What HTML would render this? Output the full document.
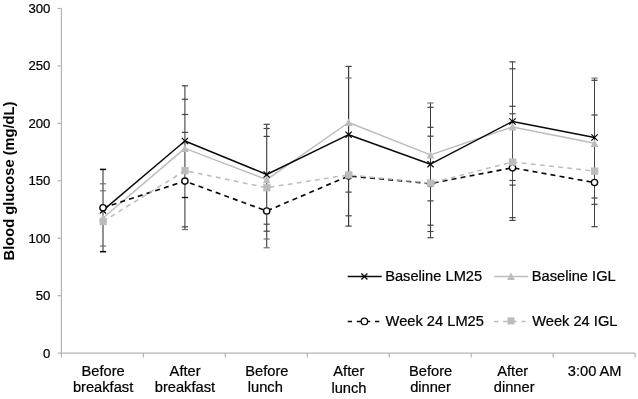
<!DOCTYPE html>
<html lang="en"><head><meta charset="utf-8"><title>Blood glucose profile</title>
<style>html,body{margin:0;padding:0;background:#fff}svg{display:block}</style></head>
<body>
<svg width="638" height="399" viewBox="0 0 638 399">
<rect width="638" height="399" fill="#fff"/>
<g stroke="#b3b3b3" stroke-width="1.2" fill="none">
<line x1="61.4" y1="8.5" x2="61.4" y2="353.1"/>
<line x1="61.4" y1="353.1" x2="635.2" y2="353.1"/>
<line x1="57.6" y1="8.50" x2="61.4" y2="8.50"/>
<line x1="57.6" y1="65.93" x2="61.4" y2="65.93"/>
<line x1="57.6" y1="123.37" x2="61.4" y2="123.37"/>
<line x1="57.6" y1="180.80" x2="61.4" y2="180.80"/>
<line x1="57.6" y1="238.23" x2="61.4" y2="238.23"/>
<line x1="57.6" y1="295.67" x2="61.4" y2="295.67"/>
<line x1="57.6" y1="353.10" x2="61.4" y2="353.10"/>
<line x1="61.40" y1="353.1" x2="61.40" y2="357.4"/>
<line x1="143.36" y1="353.1" x2="143.36" y2="357.4"/>
<line x1="225.31" y1="353.1" x2="225.31" y2="357.4"/>
<line x1="307.27" y1="353.1" x2="307.27" y2="357.4"/>
<line x1="389.23" y1="353.1" x2="389.23" y2="357.4"/>
<line x1="471.19" y1="353.1" x2="471.19" y2="357.4"/>
<line x1="553.14" y1="353.1" x2="553.14" y2="357.4"/>
<line x1="635.10" y1="353.1" x2="635.10" y2="357.4"/>
</g>
<g font-family="'Liberation Sans', Arial, sans-serif" font-size="13.2" fill="#000" stroke="#000" stroke-width="0.22" text-anchor="end">
<text x="50.4" y="13.00">300</text>
<text x="50.4" y="70.43">250</text>
<text x="50.4" y="127.87">200</text>
<text x="50.4" y="185.30">150</text>
<text x="50.4" y="242.73">100</text>
<text x="50.4" y="300.17">50</text>
<text x="50.4" y="357.60">0</text>
</g>
<text transform="translate(14.2,181) rotate(-90)" text-anchor="middle" font-family="'Liberation Sans', Arial, sans-serif" font-weight="bold" font-size="14.67" fill="#000">Blood glucose (mg/dL)</text>
<g font-family="'Liberation Sans', Arial, sans-serif" font-size="14.67" fill="#000" stroke="#000" stroke-width="0.22" text-anchor="middle">
<text x="103.2" y="375.7">Before</text>
<text x="103.1" y="391.7">breakfast</text>
<text x="185.1" y="375.7">After</text>
<text x="184.9" y="391.9">breakfast</text>
<text x="266.9" y="375.7">Before</text>
<text x="265.3" y="392.3">lunch</text>
<text x="348.8" y="375.7">After</text>
<text x="348.9" y="392.6">lunch</text>
<text x="430.7" y="375.7">Before</text>
<text x="430.5" y="392.3">dinner</text>
<text x="512.7" y="375.7">After</text>
<text x="514.2" y="392.3">dinner</text>
<text x="594.7" y="375.7">3:00 AM</text>
</g>
<g fill="none">
<line x1="103.0" y1="169.4" x2="103.0" y2="251.7" stroke="#383838" stroke-width="1.1"/>
<line x1="99.9" y1="169.4" x2="106.1" y2="169.4" stroke="#0c0c0c" stroke-width="1.55"/>
<line x1="99.9" y1="183.8" x2="106.1" y2="183.8" stroke="#6a6a6a" stroke-width="1.1"/>
<line x1="99.9" y1="190.8" x2="106.1" y2="190.8" stroke="#6a6a6a" stroke-width="1.1"/>
<line x1="99.9" y1="246.0" x2="106.1" y2="246.0" stroke="#6a6a6a" stroke-width="1.1"/>
<line x1="99.9" y1="251.7" x2="106.1" y2="251.7" stroke="#0c0c0c" stroke-width="1.55"/>
<line x1="184.9" y1="85.8" x2="184.9" y2="229.6" stroke="#383838" stroke-width="1.05"/>
<line x1="181.8" y1="85.8" x2="188.0" y2="85.8" stroke="#444" stroke-width="1.2"/>
<line x1="181.8" y1="99.3" x2="188.0" y2="99.3" stroke="#444" stroke-width="1.2"/>
<line x1="181.8" y1="114.5" x2="188.0" y2="114.5" stroke="#444" stroke-width="1.2"/>
<line x1="181.8" y1="132.4" x2="188.0" y2="132.4" stroke="#444" stroke-width="1.2"/>
<line x1="181.8" y1="197.5" x2="188.0" y2="197.5" stroke="#0c0c0c" stroke-width="1.3"/>
<line x1="181.8" y1="226.8" x2="188.0" y2="226.8" stroke="#444" stroke-width="1.2"/>
<line x1="181.8" y1="229.6" x2="188.0" y2="229.6" stroke="#6a6a6a" stroke-width="1.1"/>
<line x1="266.7" y1="124.3" x2="266.7" y2="247.8" stroke="#383838" stroke-width="1.1"/>
<line x1="263.59999999999997" y1="124.3" x2="269.8" y2="124.3" stroke="#444" stroke-width="1.2"/>
<line x1="263.59999999999997" y1="128.5" x2="269.8" y2="128.5" stroke="#444" stroke-width="1.2"/>
<line x1="263.59999999999997" y1="136.4" x2="269.8" y2="136.4" stroke="#444" stroke-width="1.2"/>
<line x1="263.59999999999997" y1="224.2" x2="269.8" y2="224.2" stroke="#444" stroke-width="1.2"/>
<line x1="263.59999999999997" y1="231.2" x2="269.8" y2="231.2" stroke="#444" stroke-width="1.2"/>
<line x1="263.59999999999997" y1="239.0" x2="269.8" y2="239.0" stroke="#6a6a6a" stroke-width="1.1"/>
<line x1="263.59999999999997" y1="247.8" x2="269.8" y2="247.8" stroke="#6a6a6a" stroke-width="1.1"/>
<line x1="348.6" y1="66.4" x2="348.6" y2="226.1" stroke="#383838" stroke-width="1.2"/>
<line x1="345.5" y1="66.4" x2="351.70000000000005" y2="66.4" stroke="#444" stroke-width="1.2"/>
<line x1="345.5" y1="78.0" x2="351.70000000000005" y2="78.0" stroke="#6a6a6a" stroke-width="1.1"/>
<line x1="345.5" y1="192.1" x2="351.70000000000005" y2="192.1" stroke="#444" stroke-width="1.2"/>
<line x1="345.5" y1="215.8" x2="351.70000000000005" y2="215.8" stroke="#444" stroke-width="1.2"/>
<line x1="345.5" y1="226.1" x2="351.70000000000005" y2="226.1" stroke="#444" stroke-width="1.2"/>
<line x1="430.5" y1="103.0" x2="430.5" y2="237.7" stroke="#383838" stroke-width="1.0"/>
<line x1="427.4" y1="103.0" x2="433.6" y2="103.0" stroke="#6a6a6a" stroke-width="1.1"/>
<line x1="427.4" y1="107.3" x2="433.6" y2="107.3" stroke="#444" stroke-width="1.2"/>
<line x1="427.4" y1="127.3" x2="433.6" y2="127.3" stroke="#444" stroke-width="1.2"/>
<line x1="427.4" y1="136.2" x2="433.6" y2="136.2" stroke="#444" stroke-width="1.2"/>
<line x1="427.4" y1="200.9" x2="433.6" y2="200.9" stroke="#444" stroke-width="1.2"/>
<line x1="427.4" y1="225.2" x2="433.6" y2="225.2" stroke="#444" stroke-width="1.2"/>
<line x1="427.4" y1="231.5" x2="433.6" y2="231.5" stroke="#444" stroke-width="1.2"/>
<line x1="427.4" y1="237.7" x2="433.6" y2="237.7" stroke="#444" stroke-width="1.2"/>
<line x1="512.5" y1="61.9" x2="512.5" y2="220.4" stroke="#383838" stroke-width="0.9"/>
<line x1="509.4" y1="61.9" x2="515.6" y2="61.9" stroke="#444" stroke-width="1.2"/>
<line x1="509.4" y1="68.8" x2="515.6" y2="68.8" stroke="#444" stroke-width="1.2"/>
<line x1="509.4" y1="106.3" x2="515.6" y2="106.3" stroke="#444" stroke-width="1.2"/>
<line x1="509.4" y1="113.8" x2="515.6" y2="113.8" stroke="#444" stroke-width="1.2"/>
<line x1="509.4" y1="180.5" x2="515.6" y2="180.5" stroke="#444" stroke-width="1.2"/>
<line x1="509.4" y1="185.1" x2="515.6" y2="185.1" stroke="#444" stroke-width="1.2"/>
<line x1="509.4" y1="217.6" x2="515.6" y2="217.6" stroke="#444" stroke-width="1.2"/>
<line x1="509.4" y1="220.4" x2="515.6" y2="220.4" stroke="#444" stroke-width="1.2"/>
<line x1="594.5" y1="78.1" x2="594.5" y2="226.7" stroke="#383838" stroke-width="0.95"/>
<line x1="591.4" y1="78.1" x2="597.6" y2="78.1" stroke="#6a6a6a" stroke-width="1.1"/>
<line x1="591.4" y1="80.3" x2="597.6" y2="80.3" stroke="#444" stroke-width="1.2"/>
<line x1="591.4" y1="115.0" x2="597.6" y2="115.0" stroke="#444" stroke-width="1.2"/>
<line x1="591.4" y1="198.0" x2="597.6" y2="198.0" stroke="#444" stroke-width="1.2"/>
<line x1="591.4" y1="204.3" x2="597.6" y2="204.3" stroke="#444" stroke-width="1.2"/>
<line x1="591.4" y1="226.7" x2="597.6" y2="226.7" stroke="#444" stroke-width="1.2"/>
</g>
<polyline points="103.0,218.0 184.9,148.4 266.7,179.6 348.6,122.5 430.5,154.9 512.5,127.0 594.5,143.3" fill="none" stroke="#bcbcbc" stroke-width="1.45" stroke-linejoin="round"/>
<path d="M103.0,214.1L106.9,221.6L99.1,221.6Z" fill="#bcbcbc"/>
<path d="M184.9,144.5L188.8,152.0L181.0,152.0Z" fill="#bcbcbc"/>
<path d="M266.7,175.7L270.59999999999997,183.2L262.8,183.2Z" fill="#bcbcbc"/>
<path d="M348.6,118.6L352.5,126.1L344.70000000000005,126.1Z" fill="#bcbcbc"/>
<path d="M430.5,151.0L434.4,158.5L426.6,158.5Z" fill="#bcbcbc"/>
<path d="M512.5,123.1L516.4,130.6L508.6,130.6Z" fill="#bcbcbc"/>
<path d="M594.5,139.4L598.4,146.9L590.6,146.9Z" fill="#bcbcbc"/>
<polyline points="103.0,210.4 184.9,141.0 266.7,174.5 348.6,134.7 430.5,164.2 512.5,121.5 594.5,137.5" fill="none" stroke="#0a0a0a" stroke-width="1.45" stroke-linejoin="round"/>
<path d="M99.9,207.3L106.1,213.5M99.9,213.5L106.1,207.3" stroke="#0a0a0a" stroke-width="1.25" fill="none"/>
<path d="M181.8,137.9L188.0,144.1M181.8,144.1L188.0,137.9" stroke="#0a0a0a" stroke-width="1.25" fill="none"/>
<path d="M263.59999999999997,171.4L269.8,177.6M263.59999999999997,177.6L269.8,171.4" stroke="#0a0a0a" stroke-width="1.25" fill="none"/>
<path d="M345.5,131.6L351.70000000000005,137.79999999999998M345.5,137.79999999999998L351.70000000000005,131.6" stroke="#0a0a0a" stroke-width="1.25" fill="none"/>
<path d="M427.4,161.1L433.6,167.29999999999998M427.4,167.29999999999998L433.6,161.1" stroke="#0a0a0a" stroke-width="1.25" fill="none"/>
<path d="M509.4,118.4L515.6,124.6M509.4,124.6L515.6,118.4" stroke="#0a0a0a" stroke-width="1.25" fill="none"/>
<path d="M591.4,134.4L597.6,140.6M591.4,140.6L597.6,134.4" stroke="#0a0a0a" stroke-width="1.25" fill="none"/>
<polyline points="103.0,207.8 184.9,181.1 266.7,211.0 348.6,176.0 430.5,183.5 512.5,167.8 594.5,182.5" fill="none" stroke="#0a0a0a" stroke-width="1.65" stroke-dasharray="5.0 4.15"/>
<circle cx="103.0" cy="207.8" r="3.15" fill="#fff" stroke="#0a0a0a" stroke-width="1.35"/>
<circle cx="184.9" cy="181.1" r="3.15" fill="#fff" stroke="#0a0a0a" stroke-width="1.35"/>
<circle cx="266.7" cy="211.0" r="3.15" fill="#fff" stroke="#0a0a0a" stroke-width="1.35"/>
<circle cx="348.6" cy="176.0" r="3.15" fill="#fff" stroke="#0a0a0a" stroke-width="1.35"/>
<circle cx="430.5" cy="183.5" r="3.15" fill="#fff" stroke="#0a0a0a" stroke-width="1.35"/>
<circle cx="512.5" cy="167.8" r="3.15" fill="#fff" stroke="#0a0a0a" stroke-width="1.35"/>
<circle cx="594.5" cy="182.5" r="3.15" fill="#fff" stroke="#0a0a0a" stroke-width="1.35"/>
<polyline points="103.0,221.5 184.9,170.6 266.7,187.7 348.6,174.9 430.5,183.1 512.5,162.0 594.5,171.1" fill="none" stroke="#bcbcbc" stroke-width="1.5" stroke-dasharray="4.8 4.35"/>
<rect x="99.5" y="217.9" width="7.3" height="7.3" fill="#bcbcbc"/>
<rect x="181.4" y="167.0" width="7.3" height="7.3" fill="#bcbcbc"/>
<rect x="263.2" y="184.1" width="7.3" height="7.3" fill="#bcbcbc"/>
<rect x="345.1" y="171.3" width="7.3" height="7.3" fill="#bcbcbc"/>
<rect x="427.0" y="179.5" width="7.3" height="7.3" fill="#bcbcbc"/>
<rect x="509.0" y="158.4" width="7.3" height="7.3" fill="#bcbcbc"/>
<rect x="591.0" y="167.5" width="7.3" height="7.3" fill="#bcbcbc"/>
<g font-family="'Liberation Sans', Arial, sans-serif" font-size="14.67" fill="#000">
<line x1="347.7" y1="276.5" x2="381.7" y2="276.5" stroke="#0a0a0a" stroke-width="1.5"/>
<path d="M361.4,273.5L367.4,279.5M361.4,279.5L367.4,273.5" stroke="#0a0a0a" stroke-width="1.3" fill="none"/>
<text x="385.2" y="281.4" stroke="#000" stroke-width="0.22">Baseline LM25</text>
<line x1="494.1" y1="276.5" x2="528.2" y2="276.5" stroke="#bcbcbc" stroke-width="1.5"/>
<path d="M511,272.6L514.9,280.1L507.1,280.1Z" fill="#bcbcbc"/>
<text x="531.8" y="281.4" stroke="#000" stroke-width="0.22">Baseline IGL</text>
<line x1="347.7" y1="321.4" x2="381.7" y2="321.4" stroke="#0a0a0a" stroke-width="1.5" stroke-dasharray="4.3 4.8"/>
<circle cx="364.4" cy="321.4" r="3.2" fill="#fff" stroke="#0a0a0a" stroke-width="1.3"/>
<text x="385.6" y="326" stroke="#000" stroke-width="0.22">Week 24 LM25</text>
<line x1="494.1" y1="321.4" x2="527.6" y2="321.4" stroke="#bcbcbc" stroke-width="1.5" stroke-dasharray="4.3 4.8"/>
<rect x="507.5" y="317.4" width="7" height="7" fill="#bcbcbc"/>
<text x="532.2" y="326" stroke="#000" stroke-width="0.22">Week 24 IGL</text>
</g>
</svg>
</body></html>
